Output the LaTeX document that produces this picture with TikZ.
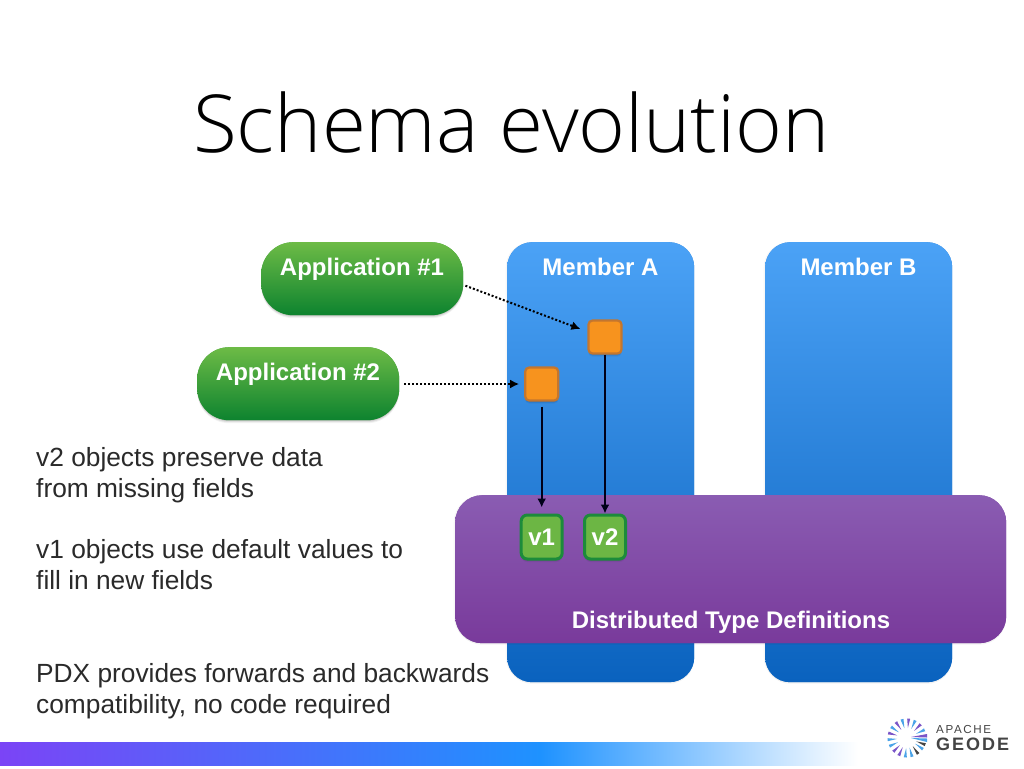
\documentclass[tikz,border=0pt]{standalone}
\usepackage{fontspec}
\setmainfont{Liberation Sans}
\newfontfamily\titlefont{Open Sans Light}
\usetikzlibrary{arrows.meta,calc}
\definecolor{memtop}{HTML}{4BA2F6}
\definecolor{memmid}{HTML}{2B82DA}
\definecolor{membot}{HTML}{0A62BE}
\definecolor{purtop}{HTML}{8A5CB2}
\definecolor{purmid}{HTML}{824BA6}
\definecolor{purbot}{HTML}{793A9B}
\definecolor{grntop}{HTML}{6DBB46}
\definecolor{grnmid}{HTML}{3D9F3A}
\definecolor{grnbot}{HTML}{0D832F}
\definecolor{orfill}{HTML}{F7931E}
\definecolor{orline}{HTML}{C4762E}
\definecolor{vfill}{HTML}{6CB644}
\definecolor{vline}{HTML}{1C8B3B}
\definecolor{inktext}{HTML}{2A2A2A}
\definecolor{barpurple}{HTML}{7B44F6}
\definecolor{barblue}{HTML}{1E92FF}
\definecolor{logopur}{HTML}{7A55C8}
\definecolor{logoblue}{HTML}{4AA3E8}
\definecolor{logodark}{HTML}{444444}
\tikzset{
  softshadow/.style={
    preaction={fill=black,fill opacity=.05,transform canvas={yshift=-3pt}},
    preaction={fill=black,fill opacity=.07,transform canvas={yshift=-2pt}},
    preaction={fill=black,fill opacity=.10,transform canvas={yshift=-1pt}}},
  faintshadow/.style={
    preaction={fill=black,fill opacity=.03,transform canvas={xshift=-1.5pt}},
    preaction={fill=black,fill opacity=.05,transform canvas={yshift=-1.5pt}}},
  box/.style={draw=none,inner sep=0pt,anchor=north west},
  member/.style={box,faintshadow,rounded corners=25pt,preaction={fill=memmid},top color=memtop,bottom color=membot,minimum width=187pt,minimum height=440pt},
  purple/.style={box,faintshadow,rounded corners=27pt,preaction={fill=purmid},top color=purtop,bottom color=purbot,minimum width=551pt,minimum height=148pt},
  appbox/.style={box,softshadow,rounded corners=32pt,preaction={fill=grnmid},top color=grntop,bottom color=grnbot,minimum width=202pt,minimum height=73pt},
  orbox/.style={softshadow,draw=orline,line width=2.2pt,fill=orfill,rounded corners=4pt,minimum size=33pt,inner sep=0pt,anchor=center},
  vbox/.style={softshadow,draw=vline,line width=3pt,fill=vfill,rounded corners=6pt,minimum width=41pt,minimum height=44pt,inner sep=0pt,anchor=center,text=white,font=\fontsize{24}{26}\selectfont\bfseries},
  wlabel/.style={text=white,font=\fontsize{24}{26}\selectfont\bfseries,anchor=base,inner sep=0pt},
  body/.style={text=inktext,font=\fontsize{26.3}{31}\selectfont,anchor=base west,inner sep=0pt},
  dotline/.style={-{Latex[length=9pt,width=9pt]},line width=2pt,dash pattern=on 2pt off 2pt,color=black},
  solidline/.style={-{Latex[length=9pt,width=9pt]},line width=1.8pt,color=black!90!blue},
}
\begin{document}
\begin{tikzpicture}[x=1pt,y=-1pt]
\useasboundingbox (0,0) rectangle (1024,768);
\fill[white] (0,0) rectangle (1024,768);
% title
\node[anchor=base,inner sep=0pt,text=black,font=\fontsize{80}{90}\titlefont] (title) at (511.5,152) {Schema evolution};
% members
\node[member] (ma) at (507,242) {};
\node[member] (mb) at (765,242) {};
\node[wlabel] (mat) at (600.5,275) {Member A};
\node[wlabel] (mbt) at (858.5,275) {Member B};
% purple
\node[purple] (dist) at (455,495) {};
\node[wlabel] (distt) at (731,628) {Distributed Type Definitions};
% apps
\node[appbox] (app1) at (261,242) {};
\node[appbox] (app2) at (197,347) {};
\node[wlabel] (app1t) at (362,275) {Application \#1};
\node[wlabel] (app2t) at (298,380) {Application \#2};
% objects
\node[orbox] (o1) at (605,337) {};
\node[orbox] (o2) at (541.7,384) {};
\node[vbox] (v1) at (541.7,537) {v1};
\node[vbox] (v2) at (605,537) {v2};
% connectors
\draw[dotline] ([xshift=2pt,yshift=-7pt]app1.east) -- ([xshift=-7pt,yshift=8pt]o1.west);
\draw[dotline] ([xshift=5pt]app2.east |- o2.west) -- ([xshift=-5pt]o2.west);
\draw[solidline] ([yshift=-5pt]o2.south) -- ([yshift=6pt]v1.north);
\draw[solidline] (o1.south) -- (v2.north);
% body text
\node[body] (t1) at (36,466) {v2 objects preserve data};
\node[body] (t2) at (36,497) {from missing fields};
\node[body] (t3) at (36,558) {v1 objects use default values to};
\node[body] (t4) at (36,589) {fill in new fields};
\node[body] (t5) at (36,682) {PDX provides forwards and backwards};
\node[body] (t6) at (36,713) {compatibility, no code required};
% bottom bar
\shade[left color=barpurple,right color=barblue] (0,742.5) rectangle (540,765);
\shade[left color=barblue,right color=white] (540,742.5) rectangle (858,765);
% logo
\begin{scope}[shift={(907,738)}]
\foreach \a/\cc in {25/logoblue,45/logopur,65/logoblue,85/logopur,105/logoblue,125/logopur,145/logoblue,165/logopur,185/logoblue,205/logoblue,225/logopur,245/logopur,265/logoblue,285/logoblue,305/logodark,325/logoblue,340/logodark}{
  \fill[\cc] (\a-4.5:19.5pt) -- (\a+4.5:19.5pt) -- (\a:10pt) -- cycle;
}
\fill[logopur] (4,-1) -- (20,-4) -- (20,-0.5) -- cycle;
\fill[logoblue] (4,0) -- (20,0.5) -- (20,4) -- cycle;
\end{scope}
\node[anchor=base west,inner sep=0pt,text=logodark,font=\fontsize{11.6}{12}\selectfont\addfontfeature{LetterSpace=14}] (ap) at (936,733) {APACHE};
\node[anchor=base west,inner sep=0pt,text=logodark,font=\fontsize{18}{18}\selectfont\bfseries\addfontfeature{LetterSpace=11}] (ge) at (936,750) {GEODE};
\end{tikzpicture}
\end{document}
